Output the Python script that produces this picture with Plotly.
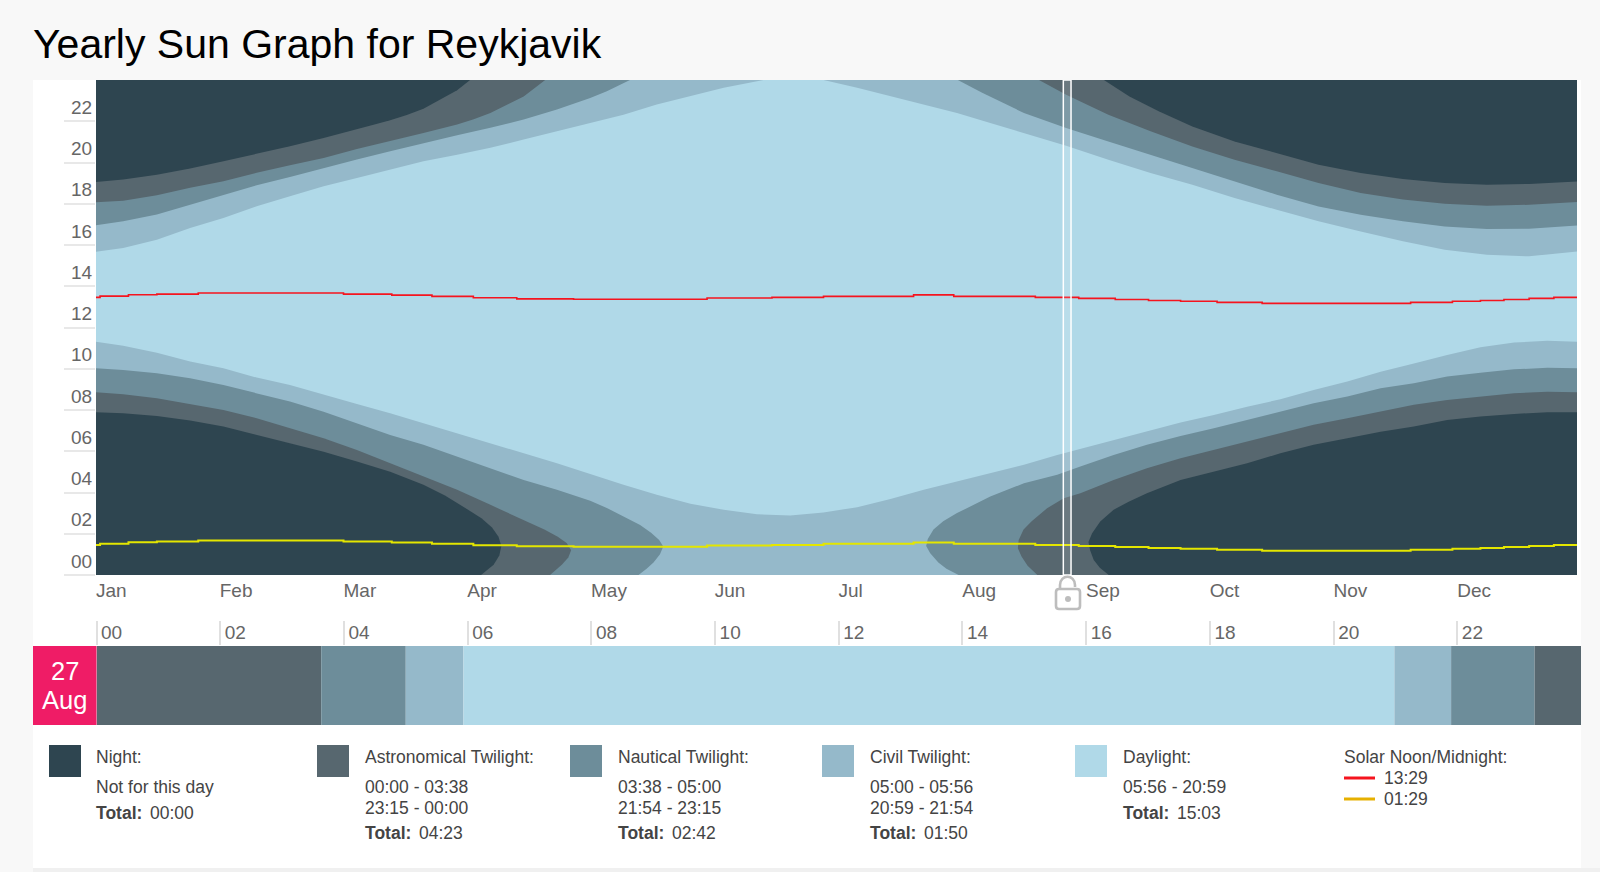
import plotly.graph_objects as go

W = 1600
H = 872

NIGHT = "#2e4550"
ASTRO = "#57676f"
NAUTICAL = "#6d8d9a"
CIVIL = "#95b9ca"
DAY = "#b0d9e8"

months = ["Jan", "Feb", "Mar", "Apr", "May", "Jun", "Jul", "Aug", "Sep", "Oct", "Nov", "Dec"]
month_days = [0, 30.5, 61, 91.5, 122, 152.5, 183, 213.5, 244, 274.5, 305, 335.5]
hour_ticks = [0, 2, 4, 6, 8, 10, 12, 14, 16, 18, 20, 22]
hour_labels = ["00", "02", "04", "06", "08", "10", "12", "14", "16", "18", "20", "22"]
strip_labels = ["\u200900", "\u200902", "\u200904", "\u200906", "\u200908", "\u200910", "\u200912", "\u200914", "\u200916",
                "\u200918", "\u200920", "\u200922"]

# boundaries as [day of year, hour]
civil_am = [[0, 11.31], [6.7, 11.12], [15, 10.78], [23.2, 10.35], [31.4, 10.02], [39.6, 9.57], [47.8, 9.21],
            [56.1, 8.73], [64.3, 8.29], [72.5, 7.84], [80.7, 7.36], [89, 6.87], [97.2, 6.39], [105.4, 5.9],
            [113.6, 5.42], [121.8, 4.9], [130, 4.37], [138.2, 3.89], [146.5, 3.45], [154.7, 3.16], [162.9, 2.95],
            [171.1, 2.88], [179.3, 3.03], [187.6, 3.29], [195.8, 3.68], [204, 4.13], [212.2, 4.53], [220.4, 4.9],
            [228.7, 5.34], [236.9, 5.82], [242.6, 6.11], [250.8, 6.55], [259, 6.95], [267.3, 7.39], [275.5, 7.76],
            [283.7, 8.16], [291.9, 8.52], [300.1, 8.97], [308.4, 9.38], [316.6, 9.86], [324.8, 10.26], [333, 10.67],
            [341.2, 11.04], [349.5, 11.27], [357.7, 11.36], [365, 11.31]]
civil_pm = [[0, 15.67], [6.7, 15.86], [15, 16.26], [23.2, 16.83], [31.4, 17.31], [39.6, 17.88], [47.8, 18.36],
            [56.1, 18.85], [64.3, 19.25], [72.5, 19.66], [80.7, 20.06], [89, 20.38], [97.2, 20.71], [105.4, 21.11],
            [113.6, 21.52], [121.8, 21.92], [130, 22.32], [138.2, 22.81], [146.5, 23.21], [154.7, 23.62], [164.5, 24],
            [179.3, 24], [187.6, 23.62], [195.8, 23.21], [204, 22.81], [212.2, 22.4], [220.4, 21.92], [228.7, 21.43],
            [239.1, 20.81], [249.5, 20.13], [259.9, 19.49], [270.2, 18.92], [280.6, 18.28], [291, 17.71],
            [301.3, 17.15], [311.7, 16.66], [322.1, 16.18], [332.4, 15.77], [342.8, 15.53], [353.2, 15.45], [365, 15.69]]

naut_am_left = [[0, 10.02], [6.7, 9.94], [15, 9.78], [23.2, 9.54], [31.4, 9.21], [39.6, 8.81], [47.8, 8.41], [56.1, 7.92],
                [64.3, 7.36], [72.5, 6.79], [80.7, 6.31], [89, 5.74], [97.2, 5.15], [105.4, 4.61], [113.6, 4.13],
                [121.8, 3.6], [125.9, 3.25], [130, 2.85], [134.1, 2.43], [136.8, 2.05], [138.8, 1.7], [139.8, 1.38],
                [139, 1.0], [137.4, 0.6], [135.7, 0.3], [133.7, 0]]
naut_am_right = [[212.6, 0], [209.6, 0.3], [207.6, 0.6], [205.6, 1.06], [204.6, 1.4], [205, 1.75], [206.4, 2.2],
                 [208.8, 2.6], [212.2, 3.0], [216.3, 3.4], [220.4, 3.8], [228.7, 4.45], [236.9, 4.86], [242.6, 5.26],
                 [250.8, 5.82], [259, 6.31], [267.3, 6.74], [275.5, 7.11], [283.7, 7.52], [291.9, 7.92], [300.1, 8.33],
                 [308.4, 8.65], [316.6, 9.05], [324.8, 9.3], [333, 9.62], [341.2, 9.81], [349.5, 9.97], [357.7, 10.05],
                 [365, 10.02]]
naut_pm_left = [[0, 16.96], [6.7, 17.15], [15, 17.48], [23.2, 17.96], [31.4, 18.41], [39.6, 18.9], [47.8, 19.3],
                [56.1, 19.74], [64.3, 20.14], [72.5, 20.55], [80.7, 20.95], [89, 21.32], [97.2, 21.68], [105.4, 22.08],
                [113.6, 22.57], [121.8, 23.13], [125.9, 23.45], [131.6, 24]]
naut_pm_right = [[212.4, 24], [218.4, 23.38], [228.7, 22.4], [239.1, 21.67], [249.5, 21.02], [259.9, 20.38],
                 [270.2, 19.73], [280.6, 19.08], [291, 18.44], [301.3, 17.87], [311.7, 17.47], [322.1, 17.15],
                 [332.4, 16.9], [342.8, 16.77], [353.2, 16.79], [365, 16.95]]

astro_am_left = [[0, 8.86], [6.7, 8.76], [15, 8.57], [23.2, 8.29], [31.4, 8.0], [39.6, 7.6], [47.8, 7.11], [56.1, 6.63],
                 [64.3, 6.06], [72.5, 5.42], [80.7, 4.77], [89, 4.13], [97.2, 3.4], [102, 2.98], [106.5, 2.55],
                 [110.5, 2.2], [113.8, 1.85], [116, 1.55], [117.1, 1.2], [116.4, 0.85], [114.8, 0.5], [111.9, 0]]
astro_am_right = [[232, 0], [229.6, 0.45], [228.1, 0.9], [227.2, 1.3], [227.4, 1.7], [228.6, 2.2], [230.6, 2.6],
                  [234.4, 3.24], [238.5, 3.72], [242.6, 3.96], [250.8, 4.61], [259, 5.18], [267.3, 5.66], [275.5, 6.06],
                  [283.7, 6.47], [291.9, 6.87], [300.1, 7.28], [308.4, 7.6], [316.6, 7.92], [324.8, 8.25], [333, 8.49],
                  [341.2, 8.65], [349.5, 8.81], [357.7, 8.89], [365, 8.86]]
astro_pm_left = [[0, 18.07], [6.7, 18.15], [15, 18.41], [23.2, 18.77], [31.4, 19.09], [39.6, 19.5], [47.8, 19.87],
                 [56.1, 20.22], [64.3, 20.66], [72.5, 21.03], [80.7, 21.43], [89, 21.84], [93.1, 22.1], [97.2, 22.4],
                 [101.3, 22.8], [105.4, 23.2], [108.7, 23.7], [110.7, 24]]
astro_pm_right = [[232.4, 24], [239.1, 23.28], [249.5, 22.32], [259.9, 21.51], [270.2, 20.78], [280.6, 20.13],
                  [291, 19.57], [301.3, 19.0], [311.7, 18.52], [322.1, 18.2], [332.4, 18.0], [342.8, 17.9],
                  [353.2, 17.95], [365, 18.08]]

night_am_left = [[0, 7.89], [6.7, 7.84], [15, 7.71], [23.2, 7.49], [31.4, 7.2], [39.6, 6.79], [47.8, 6.39], [56.1, 5.98],
                 [64.3, 5.5], [72.5, 5.01], [80.7, 4.37], [86, 3.85], [91, 3.25], [95, 2.75], [97.6, 2.3], [99.2, 1.85],
                 [99.9, 1.4], [99.4, 0.95], [98, 0.5], [94.9, 0]]
night_am_right = [[249.6, 0], [247.4, 0.35], [245.9, 0.73], [245, 1.2], [244.6, 1.6], [245.5, 2.03], [247.5, 2.59],
                  [250.8, 3.16], [254.5, 3.55], [259, 3.96], [267.3, 4.61], [275.5, 5.01], [283.7, 5.42], [291.9, 5.9],
                  [300.1, 6.31], [308.4, 6.63], [316.6, 6.95], [324.8, 7.2], [333, 7.52], [341.2, 7.68], [349.5, 7.81],
                  [357.7, 7.89], [365, 7.89]]
night_pm_left = [[0, 19.06], [6.7, 19.17], [15, 19.41], [23.2, 19.71], [31.4, 20.06], [39.6, 20.42], [47.8, 20.79],
                 [56.1, 21.19], [64.3, 21.6], [68.4, 21.83], [72.5, 22.05], [76.6, 22.3], [80.7, 22.6], [84.9, 23.05],
                 [89, 23.5], [92.2, 24]]
night_pm_right = [[248.4, 24], [254.7, 23.2], [261.9, 22.48], [270.2, 21.75], [280.6, 21.02], [291, 20.46], [301.3, 19.89],
                  [311.7, 19.49], [322.1, 19.2], [332.4, 19.0], [342.8, 18.92], [353.2, 18.96], [365, 19.08]]

solar_days = [0, 1, 8, 15, 25.2, 61, 72.9, 82.8, 93, 103.7, 117.7, 150.6, 166.6, 179.3, 201.5, 211.4, 231.5, 242.2,
              251.2, 259.4, 267.3, 276.3, 287.4, 324, 334.3, 341.2, 347, 353.2, 359.3, 365]
solar_noon = [13.46, 13.52, 13.59, 13.62, 13.67, 13.62, 13.57, 13.51, 13.44, 13.39, 13.37, 13.43, 13.46, 13.51, 13.58,
              13.51, 13.46, 13.41, 13.36, 13.31, 13.27, 13.22, 13.17, 13.22, 13.27, 13.31, 13.36, 13.41, 13.46, 13.46]
solar_midnight = [1.46, 1.52, 1.59, 1.62, 1.67, 1.62, 1.57, 1.51, 1.44, 1.39, 1.37, 1.43, 1.46, 1.51, 1.58,
                  1.51, 1.46, 1.41, 1.36, 1.31, 1.27, 1.22, 1.17, 1.22, 1.27, 1.31, 1.36, 1.41, 1.46, 1.46]

# strip for the selected day, 27 Aug
selected_day = [238.4, 240.3]
seg_start = [0, 3.633, 5.0, 5.933, 20.983, 21.9, 23.25]
seg_end = [3.633, 5.0, 5.933, 20.983, 21.9, 23.25, 24]
seg_names = ["Astronomical Twilight", "Nautical Twilight", "Civil Twilight", "Daylight", "Civil Twilight",
             "Nautical Twilight", "Astronomical Twilight"]
seg_colors = [ASTRO, NAUTICAL, CIVIL, DAY, CIVIL, NAUTICAL, ASTRO]

legend_names = ["Night:", "Astronomical Twilight:", "Nautical Twilight:", "Civil Twilight:", "Daylight:"]
legend_colors = [NIGHT, ASTRO, NAUTICAL, CIVIL, DAY]
legend_lines = [["Not for this day"], ["00:00 - 03:38", "23:15 - 00:00"], ["03:38 - 05:00", "21:54 - 23:15"],
                ["05:00 - 05:56", "20:59 - 21:54"], ["05:56 - 20:59"]]
legend_totals = ["00:00", "04:23", "02:42", "01:50", "15:03"]
solar_labels = ["13:29", "01:29"]


def px(x):
    return x / W


def py(y):
    return 1 - y / H


def add_region(fig, points, corners, color):
    xs = [p[0] for p in points] + [c[0] for c in corners]
    ys = [p[1] for p in points] + [c[1] for c in corners]
    fig.add_trace(go.Scatter(x=xs, y=ys, mode="lines", fill="toself", fillcolor=color, line=dict(width=0),
                             hoverinfo="skip", showlegend=False, xaxis="x", yaxis="y"))


def label(text, x, y, size=17.5, color="#444", xanchor="left", bold=False):
    if bold:
        text = "<b>" + text + "</b>"
    return dict(text=text, x=px(x), y=py(y), xref="paper", yref="paper", xanchor=xanchor, yanchor="middle",
                showarrow=False, font=dict(size=size, color=color, family="Liberation Sans"))


fig = go.Figure()

add_region(fig, civil_am, [[365, 0], [0, 0]], CIVIL)
add_region(fig, civil_pm, [[365, 24], [0, 24]], CIVIL)
for am_l, am_r, pm_l, pm_r, color in [
    (naut_am_left, naut_am_right, naut_pm_left, naut_pm_right, NAUTICAL),
    (astro_am_left, astro_am_right, astro_pm_left, astro_pm_right, ASTRO),
    (night_am_left, night_am_right, night_pm_left, night_pm_right, NIGHT),
]:
    add_region(fig, am_l, [[0, 0]], color)
    add_region(fig, am_r, [[365, 0]], color)
    add_region(fig, pm_l, [[0, 24]], color)
    add_region(fig, pm_r, [[365, 24]], color)

fig.add_trace(go.Scatter(x=solar_days, y=solar_noon, mode="lines", line=dict(color="#f5141e", width=1.6, shape="hv"),
                         hoverinfo="skip", showlegend=False, xaxis="x", yaxis="y"))
fig.add_trace(go.Scatter(x=solar_days, y=solar_midnight, mode="lines", line=dict(color="#e4e600", width=2, shape="hv"),
                         hoverinfo="skip", showlegend=False, xaxis="x", yaxis="y"))

fig.add_trace(go.Bar(y=[0] * len(seg_start), x=[e - s for s, e in zip(seg_start, seg_end)], base=seg_start,
                     orientation="h", width=1, marker=dict(color=seg_colors, line=dict(width=0)),
                     text=seg_names, textposition="none", hoverinfo="text", showlegend=False,
                     xaxis="x2", yaxis="y2"))

shapes = [
    # page panels
    dict(type="rect", xref="paper", yref="paper", x0=px(33), x1=px(1581), y0=py(869), y1=py(80),
         fillcolor="white", line=dict(width=0), layer="below"),
    dict(type="rect", xref="paper", yref="paper", x0=px(33), x1=px(1600), y0=0, y1=py(868),
         fillcolor="#f0f0f0", line=dict(width=0), layer="below"),
    dict(type="rect", xref="x", yref="y", x0=0, x1=365, y0=0, y1=24, fillcolor=DAY, line=dict(width=0), layer="below"),
    dict(type="rect", xref="paper", yref="paper", x0=px(33), x1=px(96.5), y0=py(725), y1=py(646),
         fillcolor="#ef1c66", line=dict(width=0)),
    # selected day marker
    dict(type="rect", xref="x", yref="y", x0=selected_day[0], x1=selected_day[1], y0=0, y1=24,
         fillcolor="rgba(255,255,255,0.12)", line=dict(color="white", width=1.5)),
    # lock icon
    dict(type="path", xref="paper", yref="paper", line=dict(color="#bdbdbd", width=2.6), fillcolor="white",
         path="M %f %f L %f %f Q %f %f %f %f L %f %f Q %f %f %f %f L %f %f Q %f %f %f %f L %f %f Q %f %f %f %f Z" % (
             px(1059), py(589), px(1077), py(589), px(1080), py(589), px(1080), py(592), px(1080), py(606),
             px(1080), py(609), px(1077), py(609), px(1059), py(609), px(1056), py(609), px(1056), py(606),
             px(1056), py(592), px(1056), py(589), px(1059), py(589))),
    dict(type="path", xref="paper", yref="paper", line=dict(color="#bdbdbd", width=2.6),
         path="M %f %f L %f %f C %f %f %f %f %f %f L %f %f" % (
             px(1060), py(589), px(1060), py(585), px(1060), py(574), px(1075), py(574), px(1075), py(585),
             px(1075), py(587))),
    dict(type="circle", xref="paper", yref="paper", x0=px(1065), x1=px(1071), y0=py(602), y1=py(596),
         fillcolor="#bdbdbd", line=dict(width=0)),
]

annotations = [label("27", 64.5, 671, size=25.5, color="white", xanchor="center"),
               label("Aug", 64.5, 700, size=25.5, color="white", xanchor="center")]

# legend blocks
swatch_x = [49, 317, 570, 822, 1075]
text_x = [94, 362.5, 615.5, 868, 1121]
for i in range(len(legend_names)):
    shapes.append(dict(type="rect", xref="paper", yref="paper", x0=px(swatch_x[i]), x1=px(swatch_x[i] + 32),
                       y0=py(777), y1=py(745), fillcolor=legend_colors[i], line=dict(width=0)))
    annotations.append(label(legend_names[i], text_x[i], 757))
    y = 787
    for line in legend_lines[i]:
        annotations.append(label(line, text_x[i], y))
        y += 20.7
    total_y = y + 5
    annotations.append(label("Total:", text_x[i], total_y, bold=True))
    annotations.append(label(legend_totals[i], text_x[i] + 54, total_y))

annotations.append(label("Solar Noon/Midnight:", 1342, 757))
for y, color, text in zip([778, 799], ["#f5141e", "#e6b000"], solar_labels):
    shapes.append(dict(type="line", xref="paper", yref="paper", x0=px(1344), x1=px(1375), y0=py(y), y1=py(y),
                       line=dict(color=color, width=3)))
    annotations.append(label(text, 1381.5, y))

fig.update_layout(
    width=W,
    height=H,
    autosize=False,
    margin=dict(l=0, r=0, t=0, b=0),
    paper_bgcolor="#f8f8f8",
    plot_bgcolor=DAY,
    font=dict(family="Liberation Sans", color="#666", size=19),
    showlegend=False,
    barmode="overlay",
    title=dict(text="Yearly Sun Graph for Reykjavik", x=px(33), xanchor="left", xref="paper", y=py(44), yanchor="middle",
               font=dict(size=41, color="black", family="Liberation Sans")),
    xaxis=dict(domain=[px(96), px(1577)], range=[0, 365], tickvals=month_days, ticktext=months, showgrid=False,
               zeroline=False, ticks="", ticklabelposition="outside right", ticklabelstandoff=2, anchor="y",
               fixedrange=True, tickfont=dict(size=19, color="#666")),
    yaxis=dict(domain=[py(575), py(80)], range=[0, 24], tickvals=hour_ticks, ticktext=hour_labels, showgrid=False,
               zeroline=False, ticks="outside", ticklen=31, tickwidth=1.5, tickcolor="#e8e8e8",
               ticklabelposition="outside top", ticklabelstandoff=-1, anchor="x", fixedrange=True,
               tickfont=dict(size=19, color="#666")),
    xaxis2=dict(domain=[px(96.5), px(1581)], range=[0, 24], side="top", tickvals=hour_ticks, ticktext=strip_labels,
                showgrid=False, zeroline=False, ticks="outside", ticklen=24, tickwidth=1.5, tickcolor="#e0e0e0",
                ticklabelposition="outside right", ticklabelstandoff=-2, anchor="y2", fixedrange=True,
                tickfont=dict(size=19, color="#666")),
    yaxis2=dict(domain=[py(725), py(646)], range=[-0.5, 0.5], visible=False, anchor="x2", fixedrange=True),
    shapes=shapes,
    annotations=annotations,
)

fig.write_html("out.html", config=dict(displayModeBar=False), post_script="document.body.style.margin='0';")
